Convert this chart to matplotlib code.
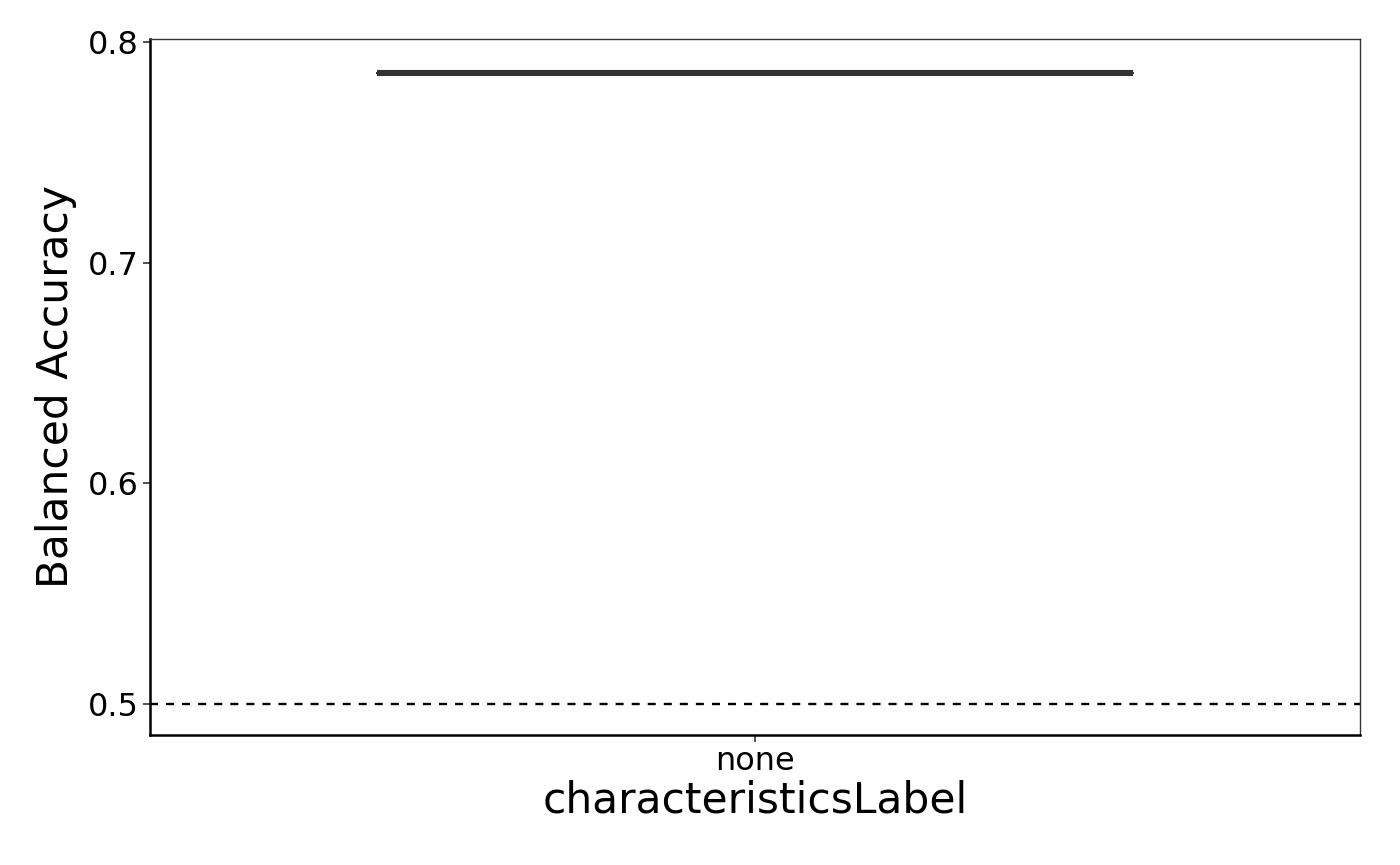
import matplotlib
matplotlib.use("Agg")
import matplotlib.pyplot as plt

# data
categories = ["none"]
balanced_accuracy = [[0.786]]
chance_level = 0.5
y_ticks = [0.5, 0.6, 0.7, 0.8]

fig = plt.figure(figsize=(14, 8.65), dpi=100)
ax = fig.add_axes([150/1400, 1-735/865, 1210/1400, 696/865])

positions = list(range(1, len(categories) + 1))
ax.boxplot(balanced_accuracy, positions=positions, widths=0.75,
           showcaps=False, showfliers=False,
           boxprops=dict(color="#333333", linewidth=1.2),
           whiskerprops=dict(color="#333333", linewidth=1.2),
           medianprops=dict(color="#333333", linewidth=4.4, solid_capstyle="butt"))

ax.axhline(chance_level, color="black", linewidth=1.7, linestyle=(0, (3.4, 3.4)))

ax.set_xlim(0.4, len(categories) + 0.6)
ax.set_ylim(0.486, 0.8014)
ax.set_xticks(positions)
ax.set_xticklabels(categories)
ax.set_yticks(y_ticks)
ax.set_yticklabels([f"{v:.1f}" for v in y_ticks])

ax.set_xlabel("characteristicsLabel", fontsize=30.5, labelpad=2)
ax.set_ylabel("Balanced Accuracy", fontsize=30.5, labelpad=8)
ax.tick_params(axis="both", labelsize=23, length=5, width=1.2, color="#333333", pad=3)

for side in ["left", "bottom"]:
    ax.spines[side].set_linewidth(1.8)
    ax.spines[side].set_color("black")
for side in ["top", "right"]:
    ax.spines[side].set_linewidth(1.0)
    ax.spines[side].set_color("#333333")

fig.savefig("out.png", dpi=100)
